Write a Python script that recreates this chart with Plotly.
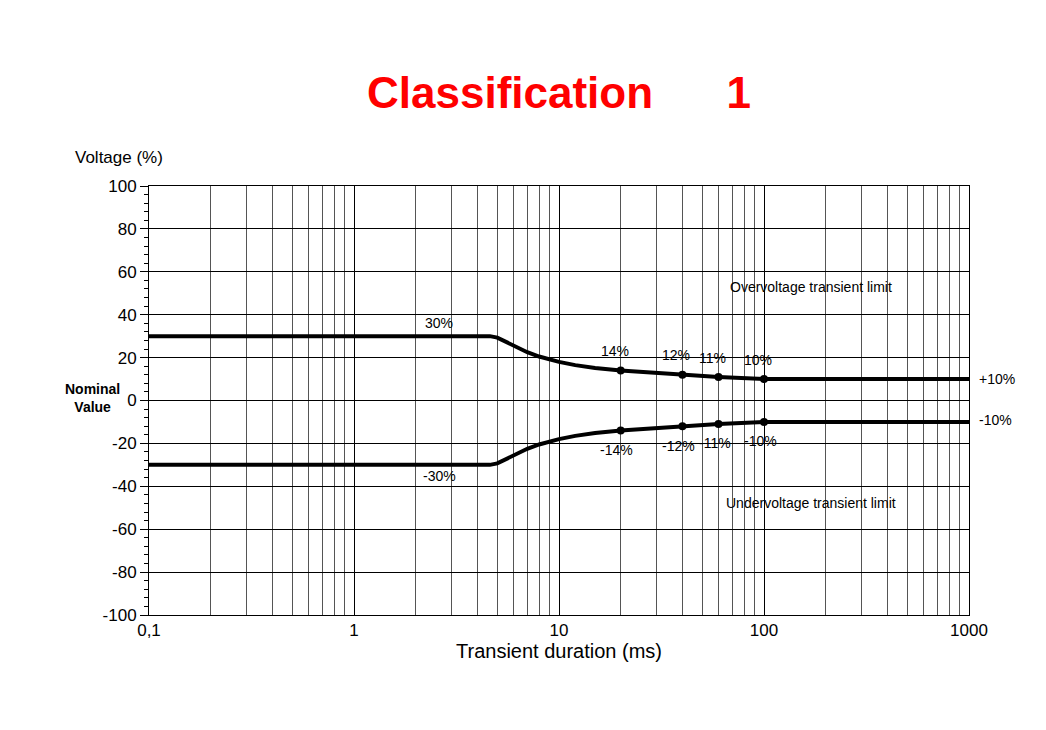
import math
import plotly.graph_objects as go

# envelope curves (duration in ms, voltage %)
dur = [0.1, 4.6, 5, 5.5, 6, 7, 8, 10, 12, 15, 20, 30, 40, 60, 100, 1000]
over = [30, 30, 29.3, 27.5, 25.5, 22.5, 20.5, 18, 16.5, 15.2, 14, 12.8, 12, 11, 10, 10]
under = [-v for v in over]

pt_x = [20, 40, 60, 100]
pt_over = [14, 12, 11, 10]
pt_under = [-14, -12, -11, -10]
pt_lab_over = ["14%", "12%", "11%", "10%"]
pt_lab_under = ["-14%", "-12%", "-11%", "-10%"]

xticks = [0.1, 1, 10, 100, 1000]
xtick_text = ["0,1", "1", "10", "100", "1000"]
yticks = list(range(-100, 101, 20))
ytick_text = [str(v).replace("−", "-") for v in yticks]

fig = go.Figure()
for ys in (over, under):
    fig.add_trace(go.Scatter(x=dur, y=ys, mode="lines", line=dict(color="black", width=4)))
for ys in (pt_over, pt_under):
    fig.add_trace(go.Scatter(x=pt_x, y=ys, mode="markers", marker=dict(color="black", size=8)))

ann = []
for x, y, t in zip(pt_x, pt_over, pt_lab_over):
    ann.append(dict(x=math.log10(x), y=y + 9, text=t, xshift=-6))
for x, y, t in zip(pt_x, pt_under, pt_lab_under):
    ann.append(dict(x=math.log10(x), y=y - 9, text=t, xshift=-4))
ann += [
    dict(x=math.log10(2.6), y=36, text="30%"),
    dict(x=math.log10(2.6), y=-35, text="-30%"),
    dict(x=math.log10(170), y=53, text="<span style='font-weight:normal'>Overvoltage transient limit</span>"),
    dict(x=math.log10(170), y=-48, text="<span style='font-weight:normal'>Undervoltage transient limit</span>"),
]
annotations = [dict(a, xref="x", yref="y", showarrow=False,
                    font=dict(size=14, color="black", family="Liberation Sans")) for a in ann]
annotations += [
    dict(x=1.01, y=10, xref="paper", yref="y", text="+10%", showarrow=False, xanchor="left", font=dict(size=14)),
    dict(x=1.01, y=-9, xref="paper", yref="y", text="-10%", showarrow=False, xanchor="left", font=dict(size=14)),
    dict(x=-0.105, y=1, xref="paper", yref="y", text="<b>Nominal<br>Value</b>", showarrow=False, font=dict(size=14)),
    dict(x=0.02, y=1.04, xref="paper", yref="paper", text="Voltage (%)", showarrow=False,
         xanchor="right", yanchor="bottom", font=dict(size=17)),
    dict(x=0.5, y=1.28, xref="paper", yref="paper", text="<b>Classification      1</b>", showarrow=False,
         font=dict(size=44, color="#ff0000", family="Liberation Sans")),
]

fig.update_layout(
    width=1046, height=730, showlegend=False, plot_bgcolor="white", paper_bgcolor="white",
    margin=dict(l=141, r=85, t=178, b=123),
    font=dict(family="Liberation Sans", color="black", size=17),
    annotations=annotations,
    xaxis=dict(type="log", range=[-1, 3], tickvals=xticks, ticktext=xtick_text,
               showgrid=True, gridcolor="black", gridwidth=1, showline=True, linecolor="black", mirror=True,
               minor=dict(showgrid=True, gridcolor="#555", gridwidth=0.6, dtick="D1"),
               title=dict(text="Transient duration (ms)", standoff=2)),
    yaxis=dict(range=[-100, 100], tickvals=yticks, ticktext=ytick_text, showgrid=True, gridcolor="black",
               gridwidth=1, showline=True, linecolor="black", mirror=True, zeroline=False,
               ticks="outside", ticklen=8, tickcolor="black",
               minor=dict(dtick=4, ticks="outside", ticklen=4, tickcolor="black", showgrid=False)),
)
fig.write_html("out.html")
